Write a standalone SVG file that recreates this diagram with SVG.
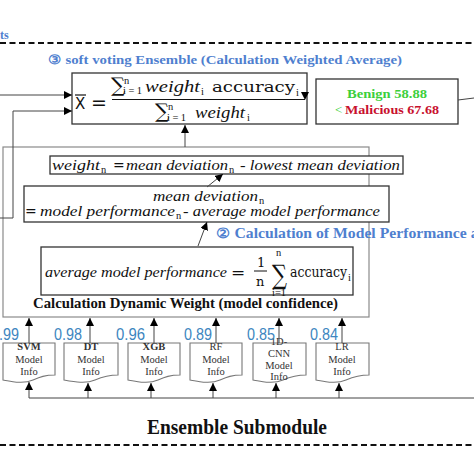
<svg xmlns="http://www.w3.org/2000/svg" width="474" height="474" viewBox="0 0 474 474">
<style>
.box{fill:#fff;stroke:#333;stroke-width:1.3}
.cont{fill:none;stroke:#8a8a8a;stroke-width:1.2}
.doc{fill:#fff;stroke:#777;stroke-width:1.1}
.ln{fill:none;stroke:#444;stroke-width:1}
.dash{stroke:#111;stroke-width:2.2;stroke-dasharray:6 3.5}
.blue{font-family:"Liberation Serif",serif;font-weight:bold;fill:#4f7fcf}
.mi{font-family:"Liberation Serif",serif;font-style:italic;fill:#111}
.mu{font-family:"DejaVu Serif","Liberation Serif",serif;fill:#111}
.sub{font-family:"Liberation Serif",serif;fill:#111;font-size:10.5px}
.score{font-family:"Liberation Sans",sans-serif;font-size:16px;fill:#3d86c0}
.mname{font-family:"Liberation Serif",serif;font-size:10.5px;fill:#333;text-anchor:middle}
.bold{font-weight:bold}
</style>
<defs>
<marker id="ah" viewBox="0 0 8 8" refX="8" refY="4" markerWidth="8" markerHeight="8" markerUnits="userSpaceOnUse" orient="auto">
<path d="M0,0 L8,4 L0,8 Z" fill="#000"/>
</marker>
</defs>
<rect width="474" height="474" fill="#fff"/>

<text x="0" y="39" class="blue" font-size="12">ts</text>
<line x1="0" y1="43" x2="474" y2="43" class="dash"/>
<line x1="0" y1="445" x2="474" y2="445" class="dash"/>

<text x="48" y="64" class="blue" font-size="13" textLength="354" lengthAdjust="spacingAndGlyphs">③ soft voting Ensemble (Calculation Weighted Average)</text>

<g id="container">
<rect x="3" y="147" width="366" height="170" class="cont"/>
<text x="33" y="308" font-family="Liberation Serif,serif" font-weight="bold" font-size="14" fill="#111" textLength="305" lengthAdjust="spacingAndGlyphs">Calculation Dynamic Weight (model confidence)</text>
</g>

<g id="formula">
<rect x="72" y="73" width="235" height="51" class="box"/>
<text x="75" y="109" font-family="DejaVu Sans,sans-serif" font-size="15" fill="#111">X</text>
<line x1="75" y1="95" x2="86" y2="95" stroke="#111" stroke-width="1.2"/>
<text x="91" y="109" font-family="DejaVu Sans,sans-serif" font-size="19" fill="#111">=</text>
<line x1="112" y1="99.5" x2="305" y2="99.5" stroke="#111" stroke-width="1.1"/>
<text x="111" y="92" class="mu" font-size="20">∑</text>
<text x="124" y="84" class="sub">n</text>
<text x="123" y="94" class="sub" textLength="19">i=1</text>
<text x="145" y="92" class="mi" font-size="17" textLength="55" lengthAdjust="spacingAndGlyphs">weight</text>
<text x="201" y="95" class="sub">i</text>
<text x="212" y="92" class="mu" font-size="15" textLength="83" lengthAdjust="spacingAndGlyphs">accuracy</text>
<text x="296" y="96" class="sub">i</text>
<text x="155" y="118" class="mu" font-size="20">∑</text>
<text x="168" y="110" class="sub">n</text>
<text x="167" y="121" class="sub" textLength="19">i=1</text>
<text x="195" y="118" class="mi" font-size="17" textLength="50" lengthAdjust="spacingAndGlyphs">weight</text>
<text x="247" y="121" class="sub">i</text>
</g>

<g id="result">
<rect x="316" y="79" width="142" height="45" class="box"/>
<text x="347" y="98" font-family="Liberation Serif,serif" font-weight="bold" font-size="13" fill="#3ccf3c" textLength="80" lengthAdjust="spacingAndGlyphs">Benign 58.88</text>
<text x="335" y="114" font-family="Liberation Serif,serif" font-size="13" fill="#3ccf3c">&lt;</text>
<text x="345" y="114" font-family="Liberation Serif,serif" font-weight="bold" font-size="13" fill="#c8102e" textLength="94" lengthAdjust="spacingAndGlyphs">Malicious 67.68</text>
</g>

<g id="weight">
<rect x="50" y="156" width="353" height="18" class="box"/>
<text x="52" y="170" class="mi" font-size="14" textLength="48" lengthAdjust="spacingAndGlyphs">weight</text>
<text x="101" y="173" class="sub">n</text>
<text x="113" y="170" class="mu" font-size="14">=</text>
<text x="126" y="170" class="mi" font-size="14" textLength="102" lengthAdjust="spacingAndGlyphs">mean deviation</text>
<text x="229" y="173" class="sub">n</text>
<text x="240" y="170" class="mi" font-size="14" textLength="160" lengthAdjust="spacingAndGlyphs">- lowest mean deviation</text>
</g>

<g id="meandev">
<rect x="24" y="186" width="365" height="36" class="box"/>
<text x="153" y="201" class="mi" font-size="14" textLength="105" lengthAdjust="spacingAndGlyphs">mean deviation</text>
<text x="259" y="204" class="sub">n</text>
<text x="25" y="216" class="mu" font-size="14">=</text>
<text x="40" y="216" class="mi" font-size="14" textLength="135" lengthAdjust="spacingAndGlyphs">model performance</text>
<text x="176" y="219" class="sub">n</text>
<text x="183" y="216" class="mi" font-size="14" textLength="197" lengthAdjust="spacingAndGlyphs">- average model performance</text>
</g>

<text x="216" y="238" class="blue" font-size="14" textLength="280" lengthAdjust="spacingAndGlyphs">② Calculation of Model Performance and</text>

<g id="average">
<rect x="41" y="247" width="312" height="48" class="box"/>
<text x="45" y="277" class="mi" font-size="14" textLength="182" lengthAdjust="spacingAndGlyphs">average model performance</text>
<text x="231" y="278" class="mu" font-size="17">=</text>
<text x="257" y="267" class="mu" font-size="13">1</text>
<line x1="254" y1="271" x2="267" y2="271" stroke="#111" stroke-width="1"/>
<text x="256" y="286" class="mu" font-size="13">n</text>
<text x="272" y="284" class="mu" font-size="27" textLength="15" lengthAdjust="spacingAndGlyphs">∑</text>
<text x="276" y="256" class="sub">n</text>
<text x="272" y="296" class="sub" textLength="14">i=1</text>
<text x="290" y="277" class="mu" font-size="14" textLength="57" lengthAdjust="spacingAndGlyphs">accuracy</text>
<text x="348" y="281" class="sub">i</text>
</g>

<g id="svm"><path class="doc" d="M3,343 H55 V375 C45,375 40,377 33,380 C24,384 14,382 3,380 Z"/>
<text x="29" y="350" class="mname bold">SVM</text><text x="29" y="363" class="mname">Model</text><text x="29" y="375" class="mname">Info</text></g>
<g id="dt"><path class="doc" d="M64,343 H118 V375 C108,375 102,377 95,380 C86,384 75,382 64,380 Z"/>
<text x="91" y="350" class="mname bold">DT</text><text x="91" y="363" class="mname">Model</text><text x="91" y="375" class="mname">Info</text></g>
<g id="xgb"><path class="doc" d="M128,343 H180 V375 C170,375 165,377 158,380 C149,384 139,382 128,380 Z"/>
<text x="154" y="350" class="mname bold">XGB</text><text x="154" y="363" class="mname">Model</text><text x="154" y="375" class="mname">Info</text></g>
<g id="rf"><path class="doc" d="M190,343 H242 V375 C232,375 227,377 220,380 C211,384 201,382 190,380 Z"/>
<text x="216" y="350" class="mname">RF</text><text x="216" y="363" class="mname">Model</text><text x="216" y="375" class="mname">Info</text></g>
<g id="cnn"><path class="doc" d="M253,343 H306 V375 C296,375 290,377 283,380 C274,384 264,382 253,380 Z"/>
<text x="279" y="345" class="mname">1D-</text><text x="279" y="357" class="mname">CNN</text><text x="279" y="369" class="mname">Model</text><text x="279" y="380" class="mname">Info</text></g>
<g id="lr"><path class="doc" d="M316,343 H369 V375 C359,375 353,377 346,380 C337,384 327,382 316,380 Z"/>
<text x="342" y="350" class="mname">LR</text><text x="342" y="363" class="mname">Model</text><text x="342" y="375" class="mname">Info</text></g>

<g id="scores">
<text x="19" y="340" class="score" text-anchor="end" textLength="28" lengthAdjust="spacingAndGlyphs">0.99</text>
<text x="54" y="340" class="score" textLength="28" lengthAdjust="spacingAndGlyphs">0.98</text>
<text x="116" y="340" class="score" textLength="29" lengthAdjust="spacingAndGlyphs">0.96</text>
<text x="184" y="340" class="score" textLength="28" lengthAdjust="spacingAndGlyphs">0.89</text>
<text x="247" y="340" class="score" textLength="28" lengthAdjust="spacingAndGlyphs">0.85</text>
<text x="310" y="340" class="score" textLength="28" lengthAdjust="spacingAndGlyphs">0.84</text>
</g>

<text x="237" y="434" text-anchor="middle" font-family="Liberation Serif,serif" font-weight="bold" font-size="20" fill="#111" textLength="180" lengthAdjust="spacingAndGlyphs">Ensemble Submodule</text>

<g id="connectors">
<line x1="0" y1="95" x2="72" y2="95" class="ln" marker-end="url(#ah)"/>
<polyline points="0,218 13,218 13,111 72,111" class="ln" marker-end="url(#ah)"/>
<line x1="185" y1="147" x2="185" y2="125" class="ln" marker-end="url(#ah)"/>
<polygon points="301,92 309,92 305,100" fill="#000"/>
<line x1="458" y1="100" x2="474" y2="98" class="ln"/>
<line x1="207" y1="187" x2="223" y2="174" class="ln" marker-end="url(#ah)"/>
<line x1="198" y1="246" x2="207" y2="222" class="ln" marker-end="url(#ah)"/>
<line x1="29" y1="343" x2="29" y2="318" class="ln" marker-end="url(#ah)"/>
<line x1="90" y1="343" x2="90" y2="318" class="ln" marker-end="url(#ah)"/>
<line x1="154" y1="343" x2="154" y2="318" class="ln" marker-end="url(#ah)"/>
<line x1="216" y1="343" x2="216" y2="318" class="ln" marker-end="url(#ah)"/>
<line x1="279" y1="343" x2="279" y2="318" class="ln" marker-end="url(#ah)"/>
<line x1="342" y1="343" x2="342" y2="318" class="ln" marker-end="url(#ah)"/>
<line x1="29" y1="398" x2="474" y2="398" class="ln"/>
<line x1="29" y1="398" x2="29" y2="382" class="ln" marker-end="url(#ah)"/>
<line x1="88" y1="398" x2="88" y2="383" class="ln" marker-end="url(#ah)"/>
<line x1="151" y1="398" x2="151" y2="383" class="ln" marker-end="url(#ah)"/>
<line x1="213" y1="398" x2="213" y2="383" class="ln" marker-end="url(#ah)"/>
<line x1="276" y1="398" x2="276" y2="383" class="ln" marker-end="url(#ah)"/>
<line x1="339" y1="398" x2="339" y2="383" class="ln" marker-end="url(#ah)"/>
</g>
</svg>
